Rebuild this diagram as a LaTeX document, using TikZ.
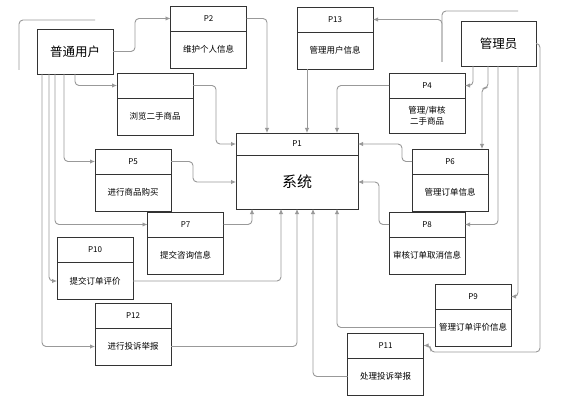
\documentclass[tikz,border=0pt]{standalone}
\usepackage{fontspec}
\setmainfont{Noto Sans CJK SC}
\usetikzlibrary{positioning, arrows.meta}

\begin{document}
\begin{tikzpicture}[
            x=1pt, y=-1pt,
            hd/.style={draw=black!80, line width=0.9pt, minimum width=76pt, minimum height=25pt, inner sep=0pt, outer sep=0pt, font=\fontsize{8}{9}\selectfont},
            bd/.style={draw=black!80, line width=0.9pt, minimum width=76pt, minimum height=37pt, inner sep=0pt, outer sep=0pt, align=center, font=\fontsize{8.5}{10.5}\selectfont},
            actor/.style={draw=black!80, line width=0.9pt, minimum width=76pt, minimum height=45pt, inner sep=0pt, outer sep=0pt, font=\fontsize{12.5}{14}\selectfont},
            flow/.style={draw=black!40, line width=0.9pt, rounded corners=4pt, -{Latex[length=5pt, width=4.5pt]}},
            link/.style={draw=black!40, line width=0.9pt, rounded corners=4pt},
        ]
            \path[use as bounding box, fill=white] (0,0) rectangle (569,403);

            % actors
            \node[actor] (user) at (75,51.5) {普通用户};
            \node[actor, minimum width=75pt] (admin) at (498.5,43.5) {管理员};

            % system
            \node[hd, minimum width=122pt, minimum height=22pt] (p1h) at (297,144) {P1};
            \node[bd, minimum width=122pt, minimum height=54pt, below=0pt of p1h, font=\fontsize{15}{17}\selectfont] (p1) {系统};

            % processes
            \node[hd] (p2h) at (208.5,18.5) {P2};
            \node[bd, below=0pt of p2h] (p2) {维护个人信息};
            \node[hd] (p13h) at (335,19.5) {P13};
            \node[bd, below=0pt of p13h] (p13) {管理用户信息};
            \node[hd] (browseh) at (155,85.5) {};
            \node[bd, below=0pt of browseh] (browse) {浏览二手商品};
            \node[hd] (p4h) at (427,85.5) {P4};
            \node[bd, minimum height=35pt, below=0pt of p4h] (p4) {管理/审核\\二手商品};
            \node[hd] (p5h) at (133,161.5) {P5};
            \node[bd, below=0pt of p5h] (p5) {进行商品购买};
            \node[hd] (p6h) at (450,161.5) {P6};
            \node[bd, below=0pt of p6h] (p6) {管理订单信息};
            \node[hd] (p7h) at (185.5,224.5) {P7};
            \node[bd, below=0pt of p7h] (p7) {提交咨询信息};
            \node[hd] (p8h) at (427,224.5) {P8};
            \node[bd, below=0pt of p8h] (p8) {审核订单取消信息};
            \node[hd] (p10h) at (95,250) {P10};
            \node[bd, below=0pt of p10h] (p10) {提交订单评价};
            \node[hd] (p12h) at (133,315.5) {P12};
            \node[bd, below=0pt of p12h] (p12) {进行投诉举报};
            \node[hd] (p9h) at (473,296.5) {P9};
            \node[bd, below=0pt of p9h] (p9) {管理订单评价信息};
            \node[hd] (p11h) at (385.5,345.5) {P11};
            \node[bd, below=0pt of p11h] (p11) {处理投诉举报};

            % loose ends
            \coordinate (ustub) at (19,70);
            \coordinate (uend) at (95,20);
            \coordinate (astub) at (442,62);
            \coordinate (aend) at (518,11);

            % user side
            \draw[link] (ustub) |- (uend);
            \draw[flow] (user.east) -- ++(22,0) |- (p2h.west);
            \draw[flow] (user.south) |- (browseh.west);
            \draw[flow] ([xshift=-11pt]user.south) |- (p5h.west);
            \draw[flow] ([xshift=-20pt]user.south) |- (p7h.west);
            \draw[flow] ([xshift=-26pt]user.south) |- (p10.west);
            \draw[flow] ([xshift=-33pt]user.south) |- (p12.west);

            % into the system
            \draw[flow] (p2h.east) -| ([xshift=31pt]p1h.north west);
            \draw[flow] ([xshift=10pt]p13.south west) -- ([xshift=10pt]p13.south west |- p1h.north);
            \draw[flow] (p4h.west) -| ([xshift=101pt]p1h.north west);
            \draw[flow] (browseh.east) -- ++(23,0) |- (p1h.west);
            \draw[flow] (p5h.east) -- ++(22,0) |- (p1.west);
            \draw[flow] (p7h.east) -| ([xshift=16pt]p1.south west);
            \draw[flow] (p10.east) -| ([xshift=45pt]p1.south west);
            \draw[flow] (p12.east) -| ([xshift=61pt]p1.south west);
            \draw[flow] (p11.west) -| ([xshift=77pt]p1.south west);
            \draw[flow] (p9.west) -| ([xshift=101pt]p1.south west);
            \draw[flow] (p6h.west) -- ++(-10,0) |- (p1h.east);
            \draw[flow] (p8h.west) -- ++(-10,0) |- (p1.east);

            % admin side
            \draw[link] (astub) |- (aend);
            \draw[flow] (astub) |- (p13h.east);
            \draw[flow] ([xshift=12pt]admin.south west) |- (p4h.east);
            \draw[flow] ([xshift=27pt]admin.south west) -- ++(0,22) -| ([xshift=70pt]p6h.north west);
            \draw[flow] ([xshift=37pt]admin.south west) |- (p8h.east);
            \draw[flow] ([xshift=57pt]admin.south west) |- (p9h.east);
            \draw[flow] (admin.east) -- ++(4,0) -- ++(0,308.5) -| ([xshift=7pt]p11h.east) -- (p11h.east);
        \end{tikzpicture}
\end{document}
